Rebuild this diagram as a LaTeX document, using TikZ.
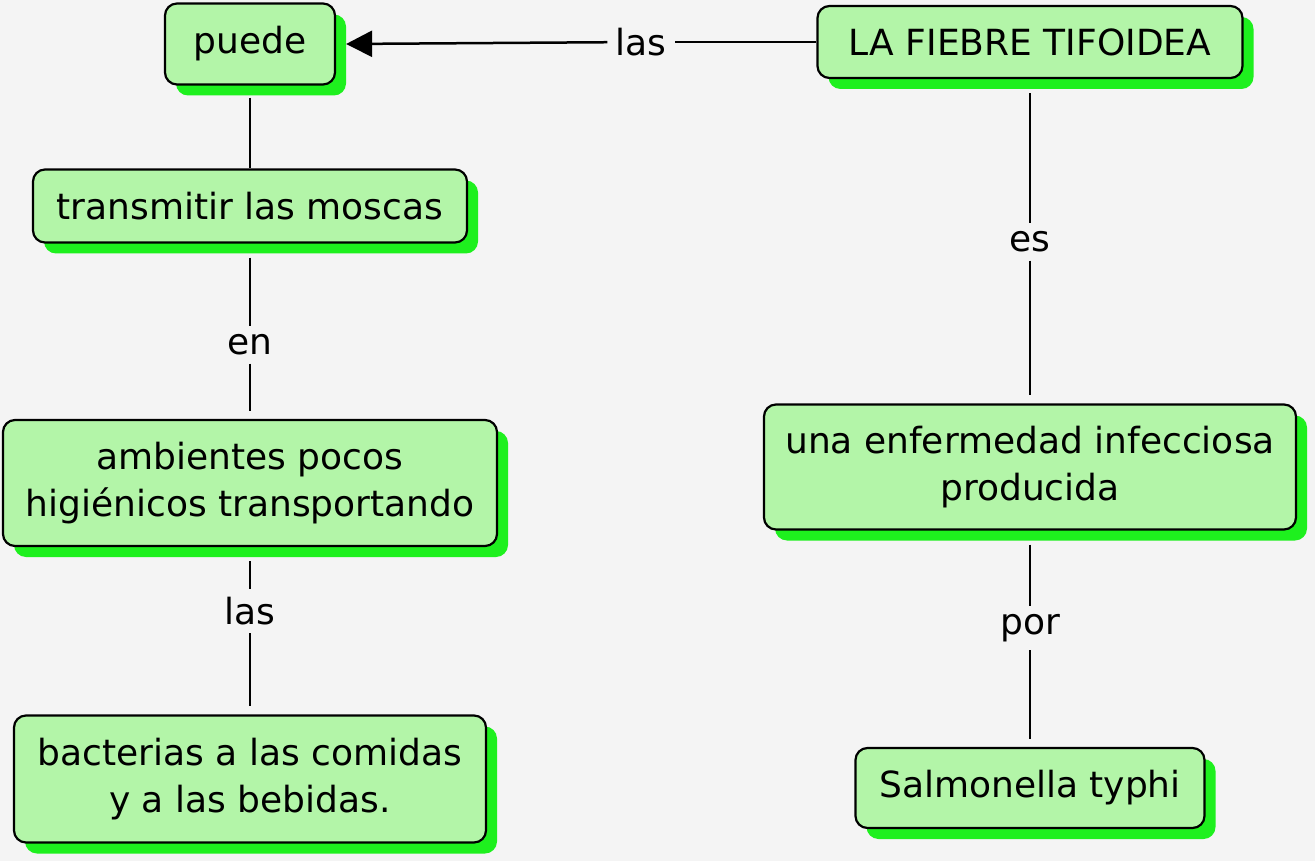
\documentclass[tikz,border=0pt]{standalone}
\usepackage{fontspec}
\setmainfont{DejaVu Sans}
\usetikzlibrary{shadows,arrows.meta}
\definecolor{bg}{HTML}{F4F4F4}
\definecolor{boxg}{HTML}{B3F5A8}
\definecolor{shg}{HTML}{1EF01E}
\tikzset{
 box/.style={draw=black, line width=2.2pt, fill=boxg, rounded corners=12pt, align=center,
   font=\fontsize{36}{47}\selectfont, inner sep=0pt,
   copy shadow={draw=none, fill=shg, shadow xshift=11pt, shadow yshift=-11pt}},
 lab/.style={font=\fontsize{36}{40}\selectfont, inner sep=8pt},
 conn/.style={line width=2.5pt}
}
\begin{document}
\begin{tikzpicture}[x=1pt,y=-1pt]
\fill[bg] (0,0) rectangle (1315,861);
\useasboundingbox (0,0) rectangle (1315,861);
\node[box, minimum width=170pt, minimum height=81pt] (puede) at (250,44) {puede};
\node[box, minimum width=425pt, minimum height=72pt] (fiebre) at (1030,42) {LA FIEBRE TIFOIDEA};
\node[box, minimum width=434pt, minimum height=73pt] (trans) at (250,206) {transmitir las moscas};
\node[box, minimum width=494pt, minimum height=126pt] (amb) at (250,483) {ambientes pocos\\higiénicos transportando};
\node[box, minimum width=472pt, minimum height=127pt] (bact) at (250,779) {bacterias a las comidas\\y a las bebidas.};
\node[box, minimum width=532pt, minimum height=125pt] (enf) at (1030,467) {una enfermedad infecciosa\\producida};
\node[box, minimum width=349pt, minimum height=80pt] (salm) at (1030,788) {Salmonella typhi};
\node[lab] (l1) at (641,42) {las};
\node[lab] (l2) at (1030,242) {es};
\node[lab] (l3) at (250,345) {en};
\node[lab] (l4) at (250,611) {las};
\node[lab] (l5) at (1030,628) {por};
\draw[conn] (fiebre) -- (l1);
\draw[conn, -{Triangle[length=26pt,width=26pt]}] (l1) -- ([xshift=10pt]puede.east);
\draw[conn] ([yshift=-12pt]puede.south) -- (trans);
\draw[conn] ([yshift=-14pt]trans.south) -- (l3);
\draw[conn] (l3) -- ([yshift=8pt]amb.north);
\draw[conn] ([yshift=-14pt]amb.south) -- (l4);
\draw[conn] (l4) -- ([yshift=8pt]bact.north);
\draw[conn] ([yshift=-14pt]fiebre.south) -- (l2);
\draw[conn] (l2) -- ([yshift=8pt]enf.north);
\draw[conn] ([yshift=-14pt]enf.south) -- (l5);
\draw[conn] (l5) -- ([yshift=8pt]salm.north);
\end{tikzpicture}
\end{document}
